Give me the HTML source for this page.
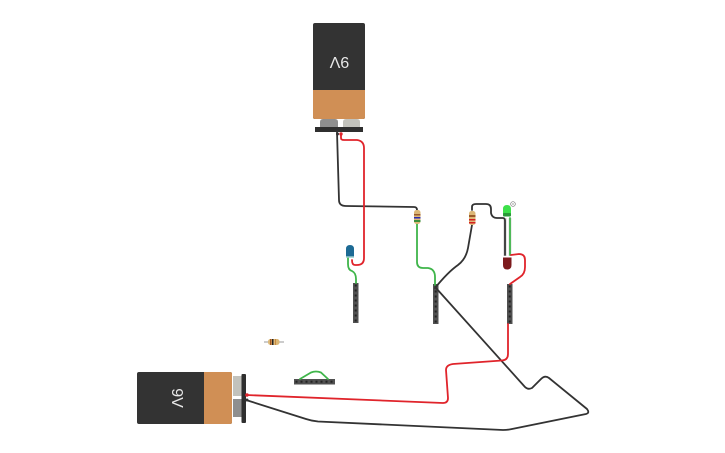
<!DOCTYPE html>
<html><head><meta charset="utf-8"><style>
html,body{margin:0;padding:0;background:#fff;width:725px;height:453px;overflow:hidden}
svg{display:block}
text{font-family:"Liberation Sans",sans-serif}
</style></head><body>
<svg width="725" height="453" viewBox="0 0 725 453" fill="none">
<defs>
<pattern id="hv" width="5.500" height="5" patternUnits="userSpaceOnUse" x="353" y="283"><rect width="5.500" height="5" fill="#505050"/><rect x="1.700" y="1.500" width="2" height="2" fill="#222"/></pattern>
<pattern id="hv2" width="5.500" height="5" patternUnits="userSpaceOnUse" x="433" y="284"><rect width="5.500" height="5" fill="#505050"/><rect x="1.700" y="1.500" width="2" height="2" fill="#222"/></pattern>
<pattern id="hv3" width="5.500" height="5" patternUnits="userSpaceOnUse" x="507" y="284"><rect width="5.500" height="5" fill="#505050"/><rect x="1.700" y="1.500" width="2" height="2" fill="#222"/></pattern>
<pattern id="hh" x="294" y="379" width="5" height="5.500" patternUnits="userSpaceOnUse"><rect width="5" height="5.500" fill="#505050"/><rect x="1.500" y="1.700" width="2" height="2" fill="#222"/></pattern>
</defs>
<!-- top battery -->
<path d="M320 128V122Q320 119 323 119H335Q338 119 338 122V128Z" fill="#8f8f8f"/>
<path d="M343 128V122Q343 119 346 119H357Q360 119 360 122V128Z" fill="#c2c2bc"/>
<rect x="313" y="23" width="52" height="96" rx="2" fill="#333"/>
<path d="M313 90H365V117a2 2 0 0 1-2 2H315a2 2 0 0 1-2-2Z" fill="#d08f55"/>
<rect x="315" y="127" width="48" height="5" fill="#2f2f2f"/>
<text x="339.500" y="61" font-size="16" fill="#e8e8e8" text-anchor="middle" transform="rotate(180 339.500 61)" dominant-baseline="middle">9V</text>
<!-- left battery -->
<rect x="233" y="376" width="10" height="20" fill="#c2c2bc"/>
<rect x="233" y="399" width="10" height="18" fill="#8f8f8f"/>
<rect x="137" y="372" width="95" height="52" rx="2" fill="#333"/>
<path d="M204 372H230a2 2 0 0 1 2 2V422a2 2 0 0 1-2 2H204Z" fill="#d08f55"/>
<rect x="241.500" y="374" width="4.500" height="49" rx="1" fill="#2f2f2f"/>
<text x="176" y="398" font-size="16" fill="#e8e8e8" text-anchor="middle" transform="rotate(90 176 398)" dominant-baseline="middle">9V</text>
<!-- headers -->
<rect x="353" y="283" width="5.500" height="40" fill="url(#hv)"/>
<rect x="433" y="284" width="5.500" height="40" fill="url(#hv2)"/>
<rect x="507" y="284" width="5.500" height="40" fill="url(#hv3)"/>
<rect x="294" y="379" width="41" height="5.500" fill="url(#hh)"/>
<!-- leg halo -->
<path d="M505 218V256" stroke="#ddd" stroke-width="3.500"/>
<path d="M510 218V256" stroke="#ddd" stroke-width="3"/>
<!-- green wires -->
<g stroke="#3fb54a" stroke-width="1.800" stroke-linejoin="round" stroke-linecap="round">
<path d="M348 257V264Q348 270 352 271Q356 273 356 279V283"/>
<path d="M417 224V262Q417 268 423 268H428Q435 269 435 277V285"/>
<path d="M510 218V255"/>
<path d="M300 379L311 372.500Q316 370.500 321 372.500L328 379"/>
</g>
<!-- black wires -->
<g stroke="#333" stroke-width="1.800" stroke-linejoin="round" stroke-linecap="round">
<path d="M337 132L339 200Q339 206 346 206L414 207Q417 207 417 210"/>
<path d="M472 225L468 248Q466 259 458 265Q448 272 435 288"/>
<path d="M472 210V207Q472 204 476 204H486Q491 204 491 209V213Q492 218 497 218H503Q505 218 505 221V255"/>
<path d="M436 288L525 387Q528 390 532 388L541 379Q545 375 549 378L587 409Q590 413 586 414L512 429Q508 430 503 430L318 421.500Q312 421 306 419L246 400"/>
</g>
<!-- red wires -->
<g stroke="#e0242b" stroke-width="1.800" stroke-linejoin="round" stroke-linecap="round">
<path d="M341 134V138Q341 140 344 140H357Q364 141 364 148V258Q364 265 357 265H355Q352 265 352 260"/>
<path d="M511 255L519 254Q525 254 525 260V267Q525 274 520 277L510 284"/>
<path d="M508 324V354Q508 360 502 360.500L453 364Q446 365 446 370L448 398Q448 403 443 403L246 395"/>
</g>
<circle cx="337.500" cy="134" r="1.500" fill="#333"/><circle cx="341" cy="134" r="1.700" fill="#e0242b"/>
<circle cx="247" cy="395" r="1.700" fill="#e0242b"/><circle cx="247" cy="400" r="1.500" fill="#333"/>
<!-- resistors -->
<rect x="414" y="210" width="6.500" height="14" rx="2.500" fill="#dcb878"/>
<rect x="414" y="214" width="6.500" height="1.500" fill="#9a5b2a"/><rect x="414" y="217" width="6.500" height="1.500" fill="#2a2ab0"/><rect x="414" y="220" width="6.500" height="2" fill="#3c8f3c"/>
<rect x="469" y="211" width="6.500" height="14" rx="2.500" fill="#dcb878"/>
<rect x="469" y="215" width="6.500" height="2" fill="#9a5b2a"/><rect x="469" y="219" width="6.500" height="1.500" fill="#d62020"/><rect x="469" y="222" width="6.500" height="1.500" fill="#d62020"/>
<path d="M264 342H284" stroke="#bbb" stroke-width="1.500"/>
<rect x="268" y="339" width="11.500" height="6" rx="2.500" fill="#dcb878"/>
<rect x="270" y="339" width="1.500" height="6" fill="#a5561f"/><rect x="272" y="339" width="1.500" height="6" fill="#222"/><rect x="275" y="339" width="1" height="6" fill="#c88a40"/>
<!-- LEDs -->
<path d="M346 256.500V249Q346 245 350 245Q354 245 354 249V256.500Z" fill="#1d6a94"/>
<path d="M346 257H354" stroke="#9cc" stroke-width="1.500"/>
<path d="M503 257.500H511.500V265Q511.500 269.500 507.200 269.500Q503 269.500 503 265Z" fill="#7d1a1d"/>
<path d="M503 214V209Q503 205 507 205Q511 205 511 209V214Z" fill="#3de04a"/>
<rect x="503" y="213" width="8" height="3.500" rx="1" fill="#2a9a38"/>
<circle cx="513" cy="204" r="2.300" stroke="#777" stroke-width=".7"/>
<path d="M513 203V205" stroke="#777" stroke-width=".7"/>
</svg>
</body></html>
